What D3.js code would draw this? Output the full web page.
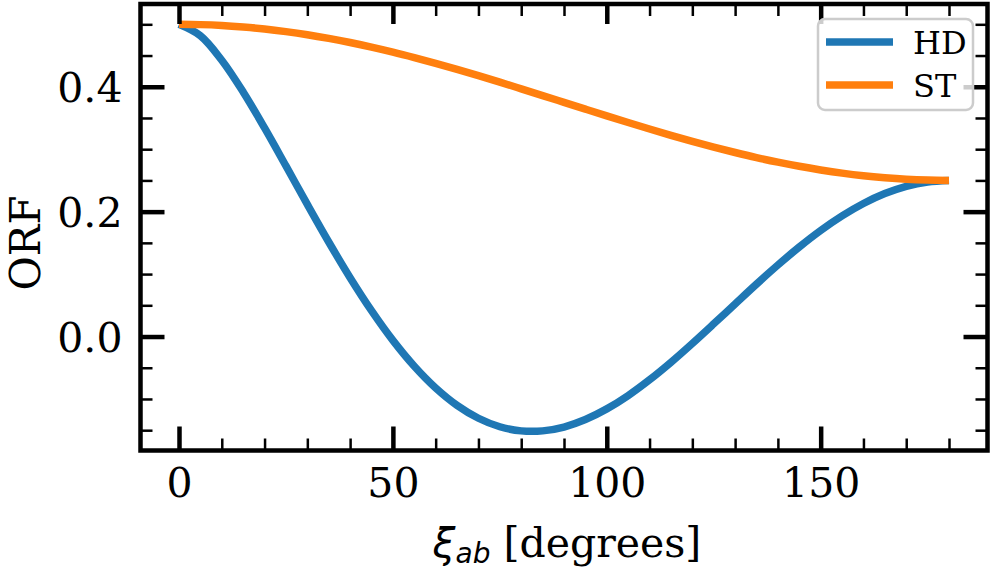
<!DOCTYPE html>
<html><head><meta charset="utf-8">
<script src="https://cdn.jsdelivr.net/npm/d3@7"></script>
<style>
html,body{margin:0;padding:0;background:#fff;}
svg{display:block;}
</style></head>
<body>
<svg id="c" width="996" height="571"></svg>
<script>
// angles in degrees
const angles = [0,5,10,15,20,25,30,35,40,45,50,55,60,65,70,75,80,85,90,95,100,105,110,115,120,125,130,135,140,145,150,155,160,165,170,175,180];
const hdValues = [0.5,0.4817,0.4425,0.3917,0.3341,0.2732,0.2116,0.1514,0.0942,0.0414,-0.0062,-0.0476,-0.0824,-0.1102,-0.1309,-0.1445,-0.1511,-0.1511,-0.1449,-0.1329,-0.1159,-0.0945,-0.0693,-0.0413,-0.0111,0.0203,0.0522,0.0839,0.1145,0.1433,0.1697,0.1931,0.2130,0.2289,0.2406,0.2476,0.25];
const stValues = [0.5,0.4995,0.4981,0.4957,0.4925,0.4883,0.4833,0.4774,0.4708,0.4634,0.4554,0.4467,0.4375,0.4278,0.4178,0.4074,0.3967,0.3859,0.375,0.3641,0.3533,0.3427,0.3323,0.3222,0.3125,0.3033,0.2947,0.2866,0.2792,0.2726,0.2668,0.2617,0.2575,0.2543,0.2519,0.2505,0.25];
const seriesNames = ["HD","ST"];
const seriesColors = ["#1f77b4","#ff7f0e"];
const xMajorTicks = [0,50,100,150];
const xMinorTicks = [10,20,30,40,60,70,80,90,110,120,130,140,160,170,180];
const yMajorTicks = [0.0,0.2,0.4];
const yMinorTicks = [-0.15,-0.1,-0.05,0.05,0.1,0.15,0.25,0.3,0.35,0.45,0.5];
const xLabelMain = "ξ", xLabelSub = "ab", xLabelRest = " [degrees]";
const yLabel = "ORF";

const svg = d3.select("#c");
const L = 140.5, R = 987.5, T = 4, B = 450.5;
const x = d3.scaleLinear().domain([-9, 189]).range([L, R]);
const y = d3.scaleLinear().domain([-0.18253, 0.53253]).range([B, T]);

const serif = "'DejaVu Serif', serif";

// curves
const series = [hdValues, stValues];
const line = d3.line().x((d,i)=>x(angles[i])).y(d=>y(d)).curve(d3.curveCatmullRom.alpha(0.5));
series.forEach((vals, k) => {
  svg.append("path").datum(vals).attr("d", line)
    .attr("fill","none").attr("stroke", seriesColors[k]).attr("stroke-width", 7.5);
});

// axes (ticks inward on all sides)
function styleAxis(g, major){
  g.select(".domain").remove();
  g.selectAll(".tick line").attr("stroke","#000").attr("stroke-width", major?4.5:2.5);
  g.selectAll(".tick text").attr("font-family", serif).attr("font-size", 41).attr("fill","#000");
}
const MAJ = 24, MIN = 12;
// bottom
svg.append("g").attr("transform",`translate(0,${B})`)
  .call(d3.axisBottom(x).tickValues(xMajorTicks).tickSize(-MAJ).tickPadding(17).tickFormat(d3.format("d")))
  .call(g=>styleAxis(g,true));
svg.append("g").attr("transform",`translate(0,${B})`)
  .call(d3.axisBottom(x).tickValues(xMinorTicks).tickSize(-MIN).tickFormat(""))
  .call(g=>styleAxis(g,false));
// top
svg.append("g").attr("transform",`translate(0,${T})`)
  .call(d3.axisTop(x).tickValues(xMajorTicks).tickSize(-MAJ+4).tickFormat(""))
  .call(g=>styleAxis(g,true));
svg.append("g").attr("transform",`translate(0,${T})`)
  .call(d3.axisTop(x).tickValues(xMinorTicks).tickSize(-MIN).tickFormat(""))
  .call(g=>styleAxis(g,false));
// left
const gl = svg.append("g").attr("transform",`translate(${L},0)`)
  .call(d3.axisLeft(y).tickValues(yMajorTicks).tickSize(-MAJ).tickPadding(18).tickFormat(d3.format(".1f")))
  .call(g=>styleAxis(g,true));
gl.selectAll(".tick text").attr("dy","0.37em");
svg.append("g").attr("transform",`translate(${L},0)`)
  .call(d3.axisLeft(y).tickValues(yMinorTicks).tickSize(-MIN).tickFormat(""))
  .call(g=>styleAxis(g,false));
// right
svg.append("g").attr("transform",`translate(${R},0)`)
  .call(d3.axisRight(y).tickValues(yMajorTicks).tickSize(-MAJ).tickFormat(""))
  .call(g=>styleAxis(g,true));
svg.append("g").attr("transform",`translate(${R},0)`)
  .call(d3.axisRight(y).tickValues(yMinorTicks).tickSize(-MIN).tickFormat(""))
  .call(g=>styleAxis(g,false));

// frame
svg.append("rect").attr("x",L).attr("y",T).attr("width",R-L).attr("height",B-T)
  .attr("fill","none").attr("stroke","#000").attr("stroke-width",4.5);

// legend
const lg = svg.append("g");
lg.append("rect").attr("x",818).attr("y",19).attr("width",155).attr("height",91).attr("rx",7)
  .attr("fill","#fff").attr("fill-opacity",0.8).attr("stroke","#cccccc").attr("stroke-width",2.5);
seriesNames.forEach((n,k)=>{
  const ly = 42 + k*43;
  lg.append("line").attr("x1",826).attr("x2",893).attr("y1",ly).attr("y2",ly)
    .attr("stroke",seriesColors[k]).attr("stroke-width",7.5);
  lg.append("text").attr("x",913).attr("y",ly+11.5).text(n)
    .attr("font-family",serif).attr("font-size",32).attr("fill","#000");
});

// axis labels
const xl = svg.append("text").attr("x",567).attr("y",557).attr("text-anchor","middle")
  .attr("font-family",serif).attr("font-size",41).attr("fill","#000");
xl.append("tspan").attr("font-family","'DejaVu Sans', sans-serif").attr("font-style","italic")
  .attr("font-weight",300).text(xLabelMain);
xl.append("tspan").attr("font-family","'DejaVu Sans', sans-serif").attr("font-style","italic")
  .attr("font-size",28).attr("dy",6).text(xLabelSub);
xl.append("tspan").attr("dy",-6).text(xLabelRest);

svg.append("text").attr("transform","translate(40,243) rotate(-90)").attr("text-anchor","middle")
  .attr("font-family",serif).attr("font-size",42).attr("fill","#000").text(yLabel);
</script>
</body></html>
